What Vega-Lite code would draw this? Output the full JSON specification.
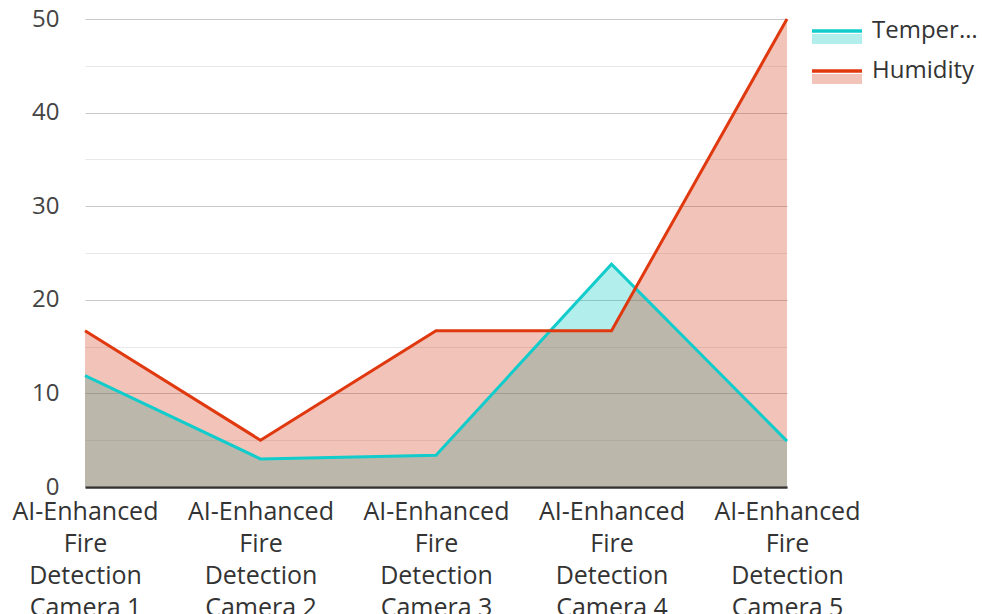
{
  "$schema": "https://vega.github.io/schema/vega-lite/v6.json",
  "width": 702,
  "height": 468,
  "autosize": {"type": "none"},
  "padding": {"left": 85, "top": 19, "right": 195, "bottom": 127},
  "background": "white",
  "config": {
    "font": "Open Sans",
    "view": {"stroke": null}
  },
  "data": {
    "values": [
      {"camera": "AI-Enhanced Fire Detection Camera 1", "series": "Temperature", "value": 11.9},
      {"camera": "AI-Enhanced Fire Detection Camera 2", "series": "Temperature", "value": 3.0},
      {"camera": "AI-Enhanced Fire Detection Camera 3", "series": "Temperature", "value": 3.4},
      {"camera": "AI-Enhanced Fire Detection Camera 4", "series": "Temperature", "value": 23.8},
      {"camera": "AI-Enhanced Fire Detection Camera 5", "series": "Temperature", "value": 4.9},
      {"camera": "AI-Enhanced Fire Detection Camera 1", "series": "Humidity", "value": 16.7},
      {"camera": "AI-Enhanced Fire Detection Camera 2", "series": "Humidity", "value": 5.0},
      {"camera": "AI-Enhanced Fire Detection Camera 3", "series": "Humidity", "value": 16.7},
      {"camera": "AI-Enhanced Fire Detection Camera 4", "series": "Humidity", "value": 16.7},
      {"camera": "AI-Enhanced Fire Detection Camera 5", "series": "Humidity", "value": 50}
    ]
  },
  "encoding": {
    "x": {
      "field": "camera",
      "type": "nominal",
      "sort": null,
      "scale": {"type": "point", "padding": 0},
      "axis": {
        "title": null,
        "labelAngle": 0,
        "ticks": false,
        "grid": false,
        "domainColor": "#333333",
        "domainWidth": 2.5,
        "labelFontSize": 25,
        "labelColor": "#333333",
        "labelLineHeight": 32,
        "labelPadding": 12,
        "labelLimit": 200,
        "labelExpr": "[split(datum.label,' ')[0], split(datum.label,' ')[1], split(datum.label,' ')[2], substring(datum.label, 27)]"
      }
    },
    "y": {
      "field": "value",
      "type": "quantitative",
      "scale": {"domain": [0, 50], "nice": false},
      "axis": {
        "title": null,
        "values": [0, 5, 10, 15, 20, 25, 30, 35, 40, 45, 50],
        "labelExpr": "datum.value % 10 === 0 ? datum.label : ''",
        "ticks": false,
        "domain": false,
        "labelFontSize": 24,
        "labelColor": "#444444",
        "labelPadding": 26,
        "gridColor": {"condition": {"test": "datum.value % 10 === 0", "value": "#c8c8c8"}, "value": "#e8e8e8"},
        "gridWidth": 1.2
      }
    }
  },
  "layer": [
    {
      "transform": [{"filter": "datum.series === 'Temperature'"}],
      "mark": {"type": "area", "fillOpacity": 0.3},
      "encoding": {
        "fill": {
          "field": "series", "type": "nominal",
          "scale": {"domain": ["Temperature", "Humidity"], "range": ["#00c8be", "#d43716"]},
          "legend": {
            "title": null, "orient": "none", "legendX": 740, "legendY": 1,
            "padding": 0, "symbolSize": 400, "symbolType": "M-2.5,0.2H2.5V1.2H-2.5Z",
            "symbolOpacity": 0.3, "symbolStrokeWidth": 0,
            "labelOffset": 23, "labelFontSize": 24, "labelColor": "transparent", "labelLimit": 112, "rowPadding": 16
          }
        }
      }
    },
    {
      "transform": [{"filter": "datum.series === 'Humidity'"}],
      "mark": {"type": "area", "fillOpacity": 0.3},
      "encoding": {
        "fill": {"field": "series", "type": "nominal"}
      }
    },
    {
      "transform": [{"filter": "datum.series === 'Temperature'"}],
      "mark": {"type": "line", "strokeWidth": 3},
      "encoding": {
        "stroke": {
          "field": "series", "type": "nominal",
          "scale": {"domain": ["Temperature", "Humidity"], "range": ["#12cccc", "#e0380f"]},
          "legend": {
            "title": null, "orient": "right", "offset": 32,
            "padding": 0, "symbolSize": 400, "symbolType": "M-2.5,0H2.5",
            "symbolStrokeWidth": 3.5,
            "labelOffset": 23, "labelFontSize": 24, "labelColor": "#333333", "labelLimit": 112, "rowPadding": 16
          }
        }
      }
    },
    {
      "transform": [{"filter": "datum.series === 'Humidity'"}],
      "mark": {"type": "line", "strokeWidth": 3},
      "encoding": {
        "stroke": {"field": "series", "type": "nominal"}
      }
    }
  ]
}
